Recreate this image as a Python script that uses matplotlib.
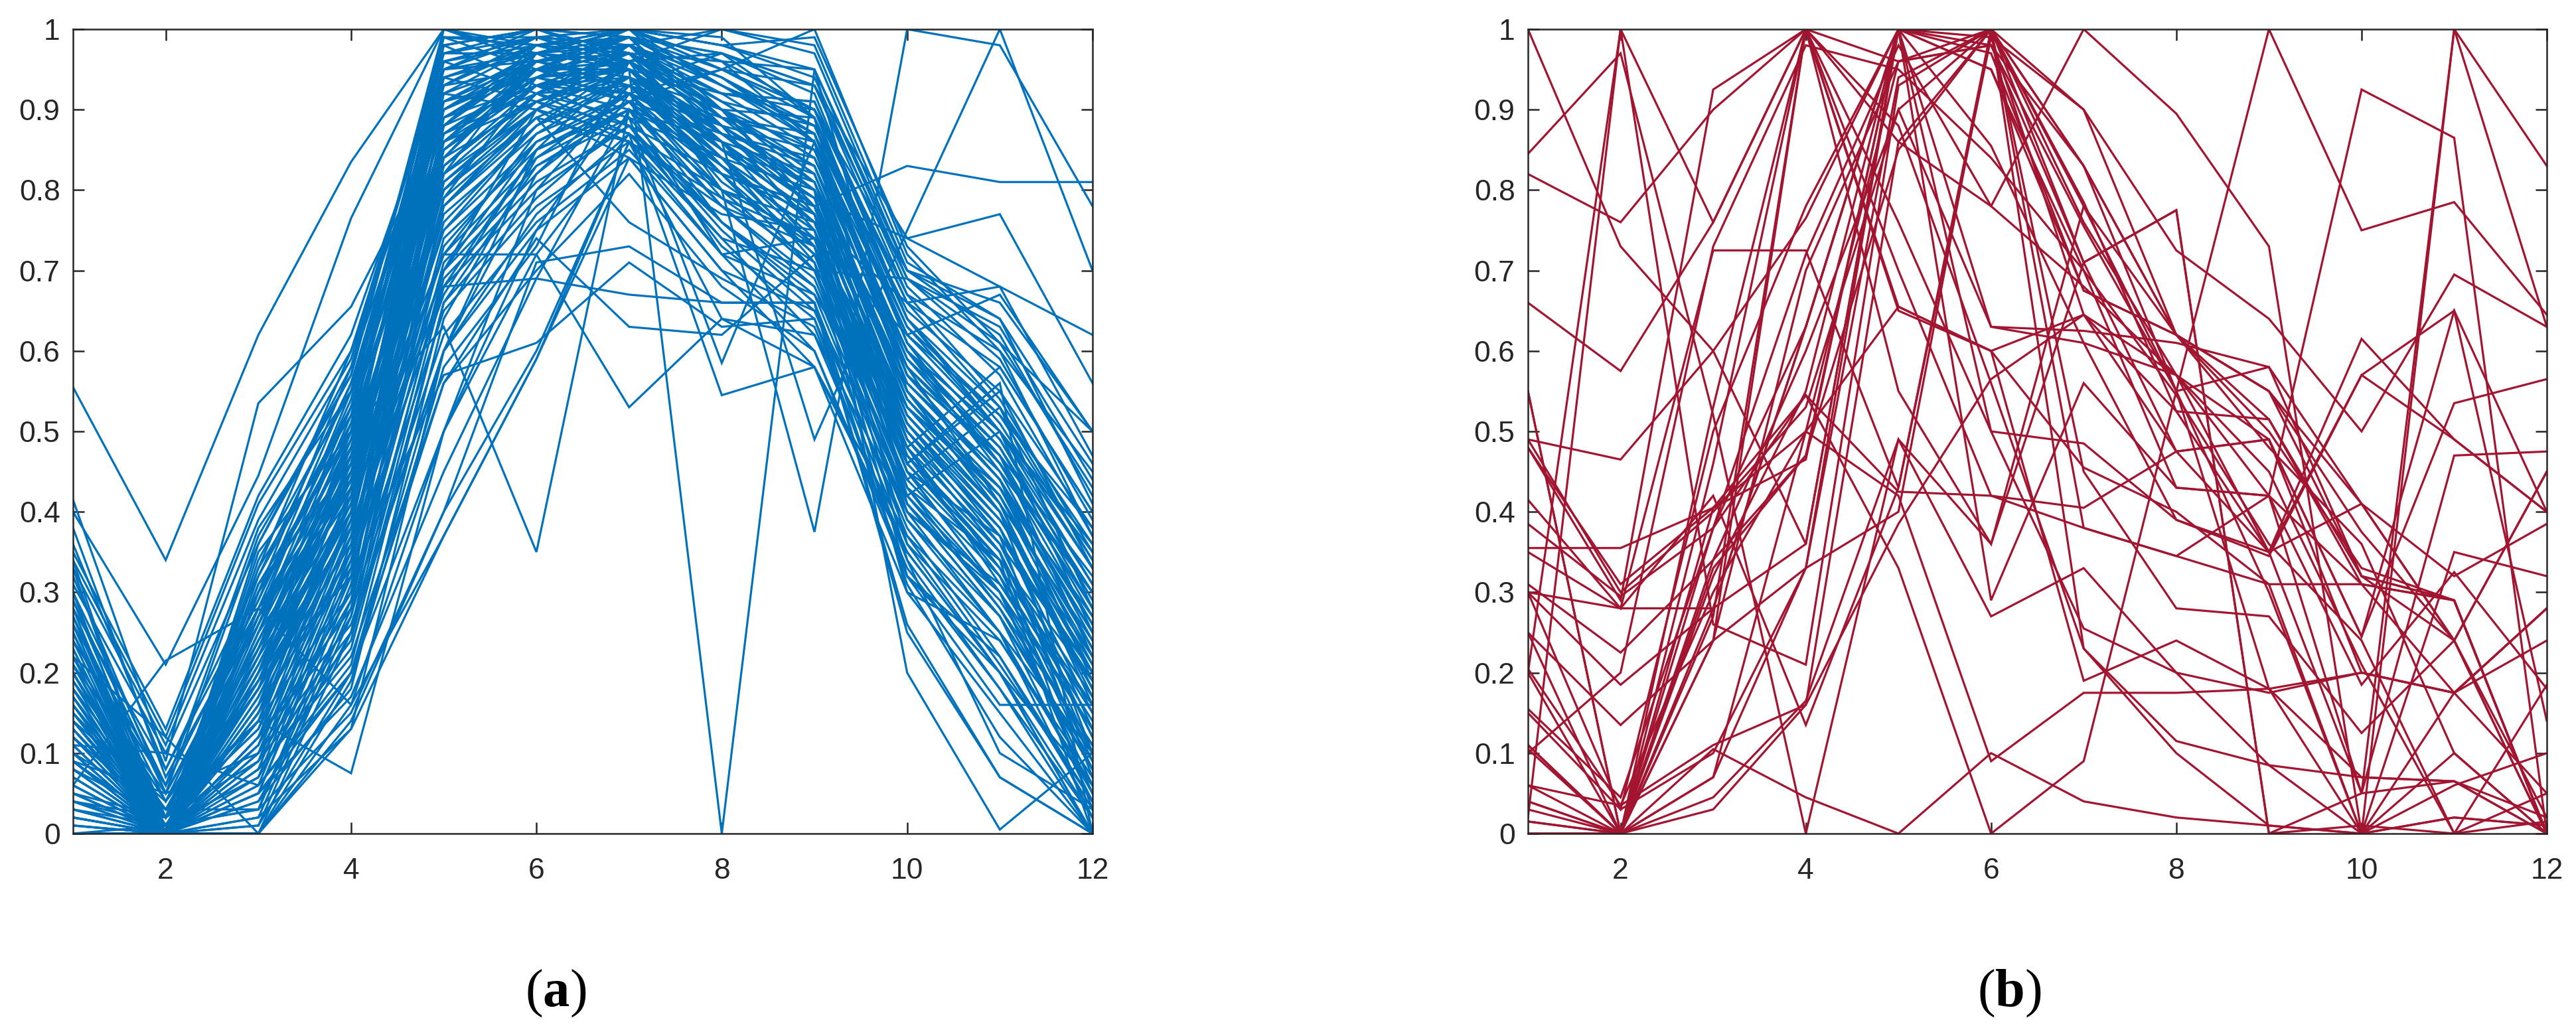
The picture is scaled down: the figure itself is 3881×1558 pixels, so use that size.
import matplotlib
matplotlib.use('Agg')
import matplotlib.pyplot as plt

# x positions (months / steps)
x_vals = [1, 2, 3, 4, 5, 6, 7, 8, 9, 10, 11, 12]
x_ticks = [2, 4, 6, 8, 10, 12]
y_ticks = [0, 0.1, 0.2, 0.3, 0.4, 0.5, 0.6, 0.7, 0.8, 0.9, 1]
y_tick_labels = ['0', '0.1', '0.2', '0.3', '0.4', '0.5', '0.6', '0.7', '0.8', '0.9', '1']

# panel (a): normalised profiles, one row per curve
series_a = [
    [0.555, 0.34, 0.62, 0.835, 1.0, 0.98, 0.99, 0.97, 0.93, 0.74, 0.68, 0.62],
    [0.415, 0.09, 0.535, 0.655, 0.88, 0.97, 1.0, 0.96, 0.86, 0.62, 0.5, 0.35],
    [0.40, 0.21, 0.445, 0.765, 1.0, 1.0, 0.97, 0.92, 0.9, 0.7, 0.66, 0.5],
    [0.34, 0.12, 0.41, 0.6, 0.93, 0.99, 0.95, 0.88, 0.8, 0.58, 0.46, 0.3],
    [0.30, 0.06, 0.38, 0.55, 0.9, 0.95, 1.0, 0.9, 0.82, 0.55, 0.42, 0.22],
    [0.27, 0.02, 0.33, 0.52, 0.86, 0.93, 0.97, 0.85, 0.77, 0.5, 0.38, 0.18],
    [0.25, 0.0, 0.3, 0.48, 0.82, 0.9, 0.95, 0.84, 0.74, 0.47, 0.35, 0.12],
    [0.22, 0.04, 0.28, 0.45, 0.8, 0.92, 0.98, 0.87, 0.79, 0.52, 0.4, 0.2],
    [0.2, 0.0, 0.25, 0.42, 0.78, 0.88, 0.94, 0.82, 0.72, 0.45, 0.3, 0.1],
    [0.18, 0.03, 0.22, 0.4, 0.75, 0.86, 0.92, 0.8, 0.7, 0.43, 0.28, 0.08],
    [0.16, 0.0, 0.2, 0.38, 0.72, 0.84, 0.9, 0.78, 0.68, 0.4, 0.25, 0.05],
    [0.15, 0.01, 0.18, 0.36, 0.7, 0.82, 0.93, 0.86, 0.76, 0.48, 0.33, 0.15],
    [0.13, 0.0, 0.16, 0.33, 0.68, 0.8, 0.88, 0.75, 0.65, 0.38, 0.22, 0.03],
    [0.12, 0.02, 0.14, 0.3, 0.65, 0.78, 0.86, 0.74, 0.62, 0.35, 0.2, 0.0],
    [0.1, 0.0, 0.12, 0.28, 0.62, 0.76, 0.85, 0.72, 0.6, 0.33, 0.18, 0.02],
    [0.09, 0.05, 0.1, 0.25, 0.6, 0.75, 0.84, 0.7, 0.58, 0.3, 0.15, 0.0],
    [0.08, 0.0, 0.08, 0.22, 0.56, 0.7, 0.82, 0.68, 0.6, 0.32, 0.2, 0.06],
    [0.06, 0.0, 0.06, 0.2, 0.5, 0.72, 0.87, 0.76, 0.66, 0.37, 0.25, 0.1],
    [0.05, 0.0, 0.05, 0.17, 0.45, 0.69, 0.9, 0.8, 0.7, 0.42, 0.3, 0.13],
    [0.04, 0.01, 0.03, 0.15, 0.4, 0.6, 0.86, 0.78, 0.73, 0.45, 0.33, 0.16],
    [0.03, 0.0, 0.02, 0.13, 0.37, 0.59, 0.84, 0.77, 0.75, 0.5, 0.36, 0.2],
    [0.02, 0.0, 0.0, 0.16, 0.5, 0.75, 0.92, 0.88, 0.8, 0.55, 0.43, 0.25],
    [0.01, 0.0, 0.01, 0.2, 0.6, 0.85, 0.96, 0.9, 0.85, 0.6, 0.48, 0.28],
    [0.0, 0.0, 0.04, 0.25, 0.7, 0.9, 0.98, 0.93, 0.88, 0.65, 0.55, 0.33],
    [0.35, 0.13, 0.42, 0.62, 0.95, 1.0, 0.99, 0.95, 0.9, 0.66, 0.58, 0.4],
    [0.31, 0.1, 0.36, 0.58, 0.92, 0.98, 1.0, 0.93, 0.87, 0.63, 0.52, 0.38],
    [0.28, 0.08, 0.32, 0.56, 0.9, 0.97, 0.98, 0.91, 0.84, 0.6, 0.5, 0.36],
    [0.24, 0.06, 0.29, 0.53, 0.88, 0.96, 0.99, 0.89, 0.83, 0.58, 0.47, 0.32],
    [0.21, 0.05, 0.26, 0.5, 0.87, 0.95, 0.97, 0.9, 0.81, 0.56, 0.45, 0.3],
    [0.19, 0.03, 0.24, 0.47, 0.85, 0.94, 0.96, 0.86, 0.78, 0.53, 0.43, 0.27],
    [0.17, 0.02, 0.21, 0.44, 0.84, 0.96, 0.99, 0.88, 0.8, 0.54, 0.41, 0.24],
    [0.14, 0.01, 0.19, 0.41, 0.83, 0.93, 0.97, 0.85, 0.77, 0.51, 0.39, 0.22],
    [0.11, 0.0, 0.17, 0.39, 0.81, 0.91, 0.95, 0.83, 0.75, 0.49, 0.37, 0.19],
    [0.07, 0.0, 0.15, 0.37, 0.79, 0.89, 0.94, 0.81, 0.73, 0.46, 0.34, 0.17],
    [0.05, 0.02, 0.13, 0.35, 0.77, 0.87, 0.92, 0.79, 0.71, 0.44, 0.32, 0.14],
    [0.03, 0.0, 0.11, 0.32, 0.74, 0.85, 0.91, 0.78, 0.69, 0.41, 0.29, 0.11],
    [0.02, 0.0, 0.09, 0.29, 0.71, 0.83, 0.89, 0.76, 0.67, 0.39, 0.27, 0.09],
    [0.0, 0.01, 0.07, 0.27, 0.69, 0.81, 0.88, 0.73, 0.64, 0.36, 0.24, 0.07],
    [0.26, 0.0, 0.35, 0.5, 1.0, 0.97, 0.92, 0.95, 1.0, 0.72, 0.6, 0.45],
    [0.23, 0.0, 0.31, 0.46, 0.98, 1.0, 0.96, 1.0, 0.97, 0.7, 0.62, 0.42],
    [0.2, 0.02, 0.27, 0.43, 0.96, 0.99, 1.0, 0.98, 0.94, 0.68, 0.57, 0.37],
    [0.12, 0.0, 0.2, 0.4, 0.94, 0.98, 0.99, 0.97, 0.92, 0.64, 0.53, 0.34],
    [0.08, 0.0, 0.15, 0.35, 0.91, 0.97, 1.0, 0.99, 0.89, 0.61, 0.49, 0.29],
    [0.0, 0.0, 0.1, 0.3, 0.89, 0.96, 0.98, 0.94, 0.86, 0.57, 0.44, 0.26],
    [0.1, 0.0, 0.0, 0.19, 0.58, 0.73, 0.96, 0.97, 0.89, 0.46, 0.56, 0.0],
    [0.15, 0.03, 0.14, 0.075, 0.5, 0.8, 0.93, 0.84, 0.76, 0.47, 0.35, 0.12],
    [0.06, 0.215, 0.28, 0.16, 0.37, 0.59, 0.86, 0.64, 0.58, 0.35, 0.2, 0.0],
    [0.05, 0.0, 0.0, 0.14, 0.4, 0.71, 0.73, 0.66, 0.66, 0.25, 0.07, 0.0],
    [0.3, 0.0, 0.2, 0.5, 0.63, 0.35, 0.9, 0.72, 0.74, 0.53, 0.42, 0.2],
    [0.18, 0.0, 0.22, 0.45, 0.72, 0.72, 0.53, 0.64, 0.62, 0.4, 0.3, 0.05],
    [0.1, 0.0, 0.25, 0.48, 0.85, 0.95, 0.95, 0.0, 0.95, 0.55, 0.4, 0.18],
    [0.13, 0.0, 0.2, 0.42, 0.88, 0.93, 0.92, 0.8, 0.375, 1.0, 0.98, 0.78],
    [0.08, 0.02, 0.18, 0.4, 0.86, 0.95, 0.96, 0.86, 0.49, 0.75, 1.0, 0.7],
    [0.2, 0.0, 0.24, 0.46, 0.87, 0.94, 0.99, 0.88, 0.8, 0.2, 0.005, 0.1],
    [0.25, 0.0, 0.3, 0.5, 0.9, 0.96, 0.97, 0.9, 0.78, 0.83, 0.81, 0.81],
    [0.16, 0.0, 0.26, 0.47, 0.86, 0.91, 0.94, 0.87, 0.79, 0.74, 0.77, 0.56],
    [0.11, 0.0, 0.21, 0.44, 0.83, 0.92, 0.96, 0.8, 0.74, 0.62, 0.67, 0.5],
    [0.07, 0.0, 0.16, 0.39, 0.8, 0.9, 0.95, 0.84, 0.76, 0.66, 0.68, 0.47],
    [0.04, 0.0, 0.12, 0.34, 0.76, 0.88, 0.93, 0.82, 0.7, 0.69, 0.63, 0.44],
    [0.02, 0.0, 0.1, 0.3, 0.73, 0.86, 0.91, 0.76, 0.66, 0.31, 0.12, 0.0],
    [0.17, 0.0, 0.23, 0.43, 0.8, 0.89, 0.76, 0.69, 0.63, 0.34, 0.1, 0.03],
    [0.09, 0.01, 0.18, 0.38, 0.68, 0.69, 0.67, 0.66, 0.66, 0.26, 0.07, 0.0],
    [0.14, 0.0, 0.19, 0.32, 0.57, 0.61, 0.71, 0.63, 0.64, 0.32, 0.16, 0.16],
    [0.06, 0.0, 0.12, 0.26, 0.6, 0.77, 0.87, 0.545, 0.58, 0.37, 0.21, 0.04],
    [0.03, 0.0, 0.08, 0.23, 0.66, 0.79, 0.89, 0.585, 0.86, 0.41, 0.27, 0.08],
    [0.0, 0.0, 0.05, 0.2, 0.56, 0.74, 0.63, 0.62, 0.72, 0.48, 0.31, 0.13],
    [0.38, 0.07, 0.28, 0.54, 0.98, 1.0, 1.0, 0.98, 0.99, 0.73, 0.61, 0.5],
    [0.33, 0.11, 0.39, 0.59, 0.97, 0.99, 0.98, 1.0, 0.98, 0.71, 0.64, 0.41],
    [0.29, 0.05, 0.37, 0.57, 0.99, 0.98, 0.97, 0.96, 0.95, 0.69, 0.59, 0.39],
    [0.23, 0.0, 0.34, 0.55, 0.95, 0.97, 1.0, 0.95, 0.93, 0.67, 0.54, 0.35],
    [0.19, 0.0, 0.3, 0.51, 0.93, 0.99, 0.98, 0.92, 0.91, 0.64, 0.51, 0.33],
    [0.15, 0.0, 0.27, 0.49, 0.91, 0.96, 0.97, 0.91, 0.88, 0.61, 0.49, 0.31],
    [0.12, 0.0, 0.23, 0.46, 0.89, 0.95, 0.96, 0.89, 0.87, 0.59, 0.46, 0.28],
    [0.09, 0.0, 0.2, 0.44, 0.87, 0.94, 0.95, 0.88, 0.85, 0.56, 0.44, 0.25],
    [0.04, 0.0, 0.17, 0.41, 0.85, 0.93, 0.94, 0.87, 0.83, 0.54, 0.42, 0.23],
    [0.01, 0.0, 0.14, 0.39, 0.82, 0.92, 0.93, 0.85, 0.81, 0.52, 0.39, 0.21],
    [0.22, 0.12, 0.0, 0.13, 0.6, 0.82, 0.91, 0.83, 0.75, 0.45, 0.37, 0.2],
    [0.27, 0.0, 0.04, 0.18, 0.64, 0.84, 0.92, 0.82, 0.78, 0.43, 0.34, 0.19],
    [0.11, 0.1, 0.06, 0.21, 0.66, 0.83, 0.9, 0.8, 0.74, 0.4, 0.31, 0.16],
    [0.17, 0.0, 0.09, 0.24, 0.68, 0.85, 0.91, 0.82, 0.77, 0.42, 0.28, 0.11],
    [0.33, 0.0, 0.25, 0.52, 0.97, 1.0, 0.99, 0.93, 0.86, 0.57, 0.47, 0.27],
    [0.29, 0.02, 0.18, 0.47, 0.95, 0.99, 0.98, 0.91, 0.84, 0.6, 0.45, 0.24],
    [0.26, 0.0, 0.14, 0.43, 0.93, 0.98, 1.0, 0.95, 0.89, 0.64, 0.5, 0.31],
    [0.21, 0.01, 0.11, 0.39, 0.9, 0.97, 0.99, 0.94, 0.88, 0.62, 0.52, 0.34],
    [0.18, 0.0, 0.08, 0.36, 0.88, 0.98, 0.97, 0.92, 0.85, 0.59, 0.48, 0.3],
    [0.14, 0.0, 0.05, 0.33, 0.86, 0.96, 0.98, 0.9, 0.83, 0.55, 0.43, 0.21],
    [0.1, 0.03, 0.03, 0.31, 0.84, 0.95, 0.99, 0.93, 0.87, 0.58, 0.41, 0.18],
    [0.06, 0.0, 0.02, 0.28, 0.82, 0.97, 1.0, 0.96, 0.9, 0.61, 0.46, 0.26],
    [0.02, 0.0, 0.0, 0.25, 0.79, 0.94, 0.98, 0.94, 0.87, 0.57, 0.44, 0.23],
    [0.36, 0.08, 0.3, 0.58, 0.99, 0.99, 0.96, 0.9, 0.82, 0.53, 0.4, 0.17],
    [0.32, 0.05, 0.27, 0.55, 0.98, 1.0, 0.97, 0.89, 0.8, 0.5, 0.38, 0.15],
    [0.27, 0.04, 0.23, 0.51, 0.96, 0.98, 0.95, 0.87, 0.78, 0.48, 0.36, 0.12],
    [0.24, 0.0, 0.2, 0.48, 0.94, 0.97, 0.96, 0.86, 0.76, 0.46, 0.33, 0.09],
    [0.2, 0.0, 0.16, 0.45, 0.92, 0.96, 0.94, 0.84, 0.73, 0.43, 0.3, 0.06],
    [0.16, 0.02, 0.13, 0.42, 0.9, 0.95, 0.93, 0.83, 0.72, 0.41, 0.27, 0.04],
    [0.13, 0.0, 0.1, 0.38, 0.87, 0.94, 0.92, 0.82, 0.7, 0.39, 0.25, 0.02],
    [0.09, 0.0, 0.07, 0.35, 0.85, 0.93, 0.95, 0.85, 0.79, 0.47, 0.34, 0.0],
    [0.05, 0.0, 0.05, 0.32, 0.83, 0.92, 0.97, 0.88, 0.81, 0.49, 0.35, 0.03],
    [0.03, 0.01, 0.03, 0.29, 0.81, 0.91, 0.96, 0.87, 0.8, 0.51, 0.37, 0.07],
    [0.0, 0.0, 0.01, 0.27, 0.78, 0.9, 0.95, 0.86, 0.78, 0.52, 0.4, 0.1],
    [0.3, 0.0, 0.33, 0.6, 0.97, 0.97, 0.95, 0.92, 0.91, 0.66, 0.53, 0.28],
    [0.26, 0.06, 0.29, 0.56, 0.95, 0.96, 0.94, 0.9, 0.89, 0.63, 0.5, 0.25],
    [0.22, 0.0, 0.26, 0.53, 0.93, 0.95, 0.93, 0.89, 0.86, 0.6, 0.47, 0.22],
    [0.18, 0.0, 0.22, 0.49, 0.91, 0.94, 0.91, 0.87, 0.84, 0.57, 0.44, 0.19],
    [0.14, 0.04, 0.19, 0.46, 0.89, 0.93, 0.9, 0.86, 0.82, 0.54, 0.41, 0.16],
    [0.11, 0.0, 0.15, 0.43, 0.87, 0.92, 0.89, 0.84, 0.8, 0.51, 0.38, 0.13],
    [0.07, 0.0, 0.12, 0.4, 0.84, 0.91, 0.88, 0.82, 0.78, 0.49, 0.35, 0.1],
    [0.04, 0.02, 0.09, 0.37, 0.81, 0.9, 0.87, 0.8, 0.76, 0.47, 0.32, 0.08],
    [0.01, 0.0, 0.06, 0.34, 0.78, 0.89, 0.86, 0.79, 0.74, 0.45, 0.3, 0.05],
    [0.2, 0.0, 0.27, 0.44, 0.75, 0.88, 0.96, 0.9, 0.77, 0.36, 0.2, 0.02],
    [0.16, 0.0, 0.23, 0.41, 0.72, 0.87, 0.94, 0.88, 0.75, 0.34, 0.18, 0.0],
    [0.12, 0.0, 0.19, 0.38, 0.7, 0.86, 0.92, 0.86, 0.73, 0.32, 0.22, 0.04],
    [0.08, 0.0, 0.15, 0.35, 0.67, 0.85, 0.9, 0.84, 0.71, 0.3, 0.24, 0.06],
    [0.25, 0.02, 0.31, 0.5, 0.98, 0.93, 0.88, 0.76, 0.68, 0.44, 0.53, 0.36],
    [0.21, 0.0, 0.28, 0.47, 0.96, 0.92, 0.87, 0.74, 0.7, 0.46, 0.55, 0.38],
    [0.17, 0.0, 0.24, 0.44, 0.94, 0.91, 0.86, 0.72, 0.67, 0.48, 0.58, 0.4],
    [0.13, 0.01, 0.2, 0.41, 0.92, 0.9, 0.84, 0.7, 0.65, 0.42, 0.5, 0.33],
    [0.34, 0.0, 0.36, 0.57, 1.0, 0.96, 0.93, 0.97, 0.93, 0.69, 0.61, 0.43],
    [0.28, 0.0, 0.32, 0.53, 0.99, 0.95, 0.91, 0.95, 0.9, 0.67, 0.6, 0.37],
    [0.09, 0.0, 0.18, 0.4, 0.88, 0.97, 1.0, 0.98, 0.95, 0.7, 0.64, 0.46],
]

# panel (b): the scattered group
series_b = [
    [1.00, 0.73, 0.60, 0.36, 1.00, 0.98, 0.83, 0.62, 0.55, 0.32, 0.24, 0.00],
    [0.82, 0.76, 0.90, 1.00, 0.65, 0.60, 0.645, 0.57, 0.49, 0.245, 0.535, 0.565],
    [0.845, 0.97, 0.52, 0.00, 0.49, 0.36, 0.71, 0.775, 0.00, 0.05, 0.065, 0.00],
    [0.66, 0.575, 0.76, 1.00, 0.86, 0.78, 1.00, 0.895, 0.73, 0.00, 0.02, 0.01],
    [0.49, 0.465, 0.60, 0.765, 1.00, 0.95, 0.675, 0.62, 0.55, 0.375, 0.24, 0.45],
    [0.55, 0.00, 0.28, 0.63, 1.00, 1.00, 0.785, 0.525, 0.35, 0.615, 0.49, 0.40],
    [0.48, 0.31, 0.405, 0.50, 0.96, 0.98, 0.755, 0.55, 0.58, 0.32, 0.29, 0.00],
    [0.415, 0.28, 0.725, 0.725, 0.43, 0.99, 0.645, 0.475, 0.49, 0.245, 0.65, 0.40],
    [0.385, 0.295, 0.38, 0.63, 1.00, 0.855, 0.61, 0.39, 0.345, 0.57, 0.65, 0.14],
    [0.355, 0.355, 0.405, 0.545, 0.33, 0.00, 0.09, 0.55, 1.00, 0.75, 0.785, 0.645],
    [0.31, 0.225, 0.34, 0.47, 1.00, 0.63, 0.61, 0.57, 0.42, 0.31, 0.175, 0.28],
    [0.30, 0.185, 0.28, 0.36, 1.00, 0.50, 0.485, 0.39, 0.35, 0.41, 0.24, 0.02],
    [0.25, 0.135, 0.24, 0.33, 0.94, 1.00, 0.38, 0.345, 0.42, 0.185, 0.325, 0.18],
    [0.205, 0.035, 0.11, 0.16, 0.385, 0.565, 0.645, 0.525, 0.515, 0.32, 0.29, 0.00],
    [0.155, 0.045, 0.38, 0.545, 0.425, 0.42, 0.405, 0.475, 0.49, 0.20, 0.175, 0.28],
    [0.11, 0.00, 0.405, 0.465, 1.00, 0.29, 0.56, 0.43, 0.42, 0.05, 0.47, 0.475],
    [0.105, 0.00, 0.105, 0.045, 0.00, 0.10, 0.04, 0.02, 0.01, 0.00, 0.02, 0.01],
    [0.06, 0.035, 0.30, 0.50, 0.655, 0.60, 0.19, 0.24, 0.18, 0.00, 0.06, 0.10],
    [0.04, 0.00, 0.045, 0.165, 0.49, 0.27, 0.33, 0.20, 0.175, 0.20, 0.175, 0.28],
    [0.03, 0.00, 0.03, 0.16, 0.86, 1.00, 0.45, 0.28, 0.27, 0.125, 0.24, 0.45],
    [0.015, 0.00, 0.24, 0.70, 0.96, 1.00, 0.83, 0.55, 0.18, 0.07, 0.065, 0.00],
    [0.02, 1.00, 0.76, 1.00, 0.96, 0.98, 0.71, 0.775, 0.00, 0.01, 0.00, 0.05],
    [0.20, 1.00, 0.26, 0.21, 0.93, 1.00, 0.23, 0.115, 0.085, 0.00, 0.35, 0.32],
    [0.48, 0.29, 0.925, 1.00, 0.55, 0.36, 0.78, 0.62, 0.55, 0.41, 0.24, 0.00],
    [0.35, 0.28, 0.28, 0.63, 1.00, 0.99, 0.90, 0.725, 0.64, 0.50, 0.695, 0.63],
    [0.015, 0.00, 0.32, 0.55, 1.00, 1.00, 0.83, 0.62, 0.48, 0.36, 0.10, 0.00],
    [0.30, 0.03, 0.10, 0.33, 1.00, 0.97, 0.675, 0.62, 0.515, 0.31, 0.29, 0.00],
    [0.11, 0.00, 0.38, 0.72, 0.98, 0.78, 0.68, 0.57, 0.45, 0.21, 0.00, 0.185],
    [0.55, 0.00, 0.33, 0.47, 0.85, 1.00, 0.71, 0.475, 0.35, 0.57, 0.49, 0.40],
    [0.04, 0.00, 0.24, 1.00, 0.655, 0.60, 0.455, 0.40, 0.31, 0.31, 0.29, 0.00],
    [0.00, 0.00, 0.07, 0.50, 0.42, 0.09, 0.175, 0.175, 0.18, 0.20, 0.175, 0.05],
    [0.06, 0.00, 0.27, 1.00, 0.70, 0.42, 0.38, 0.345, 0.31, 0.00, 0.10, 0.00],
    [0.20, 0.00, 0.53, 1.00, 0.88, 0.56, 0.23, 0.10, 0.01, 0.00, 0.175, 0.24],
    [0.00, 0.00, 0.46, 1.00, 0.76, 0.50, 0.255, 0.20, 0.085, 0.07, 0.065, 0.02],
    [0.30, 0.28, 0.42, 0.135, 0.43, 1.00, 0.90, 0.62, 0.50, 0.33, 0.29, 0.00],
    [0.25, 0.00, 0.07, 0.33, 0.40, 1.00, 0.76, 0.57, 0.35, 0.05, 1.00, 0.83],
    [0.15, 0.03, 0.50, 0.78, 1.00, 0.95, 0.70, 0.43, 0.42, 0.925, 0.865, 0.00],
    [0.11, 0.00, 0.34, 0.60, 0.90, 1.00, 0.78, 0.55, 0.30, 0.00, 1.00, 0.63],
    [0.10, 0.20, 0.73, 0.98, 0.95, 0.84, 0.70, 0.545, 0.36, 0.24, 0.00, 0.015],
    [0.49, 0.30, 0.40, 0.53, 0.90, 0.63, 0.625, 0.61, 0.58, 0.41, 0.32, 0.385],
]

panel_labels = ['a', 'b']
line_colors = ['#0072BD', '#A2142F']

plt.rcParams['font.family'] = ['Liberation Sans', 'DejaVu Sans']
plt.rcParams['mathtext.fontset'] = 'custom'
plt.rcParams['mathtext.rm'] = 'Liberation Serif'
plt.rcParams['mathtext.bf'] = 'Liberation Serif:bold'

fig = plt.figure(figsize=(38.81, 15.58), dpi=100)

ax_a = fig.add_axes([0.02834, 0.19384, 0.39577, 0.77792])
ax_b = fig.add_axes([0.59315, 0.19384, 0.39552, 0.77792])

for ax, data, col in [(ax_a, series_a, line_colors[0]), (ax_b, series_b, line_colors[1])]:
    for row in data:
        ax.plot(x_vals, row, color=col, lw=2.3, solid_joinstyle='miter')
    ax.set_xlim(1, 12)
    ax.set_ylim(0, 1)
    ax.set_xticks(x_ticks)
    ax.set_xticklabels([str(t) for t in x_ticks])
    ax.set_yticks(y_ticks)
    ax.set_yticklabels(y_tick_labels)
    ax.tick_params(axis='both', direction='in', length=12, width=1.8,
                   color='#262626', labelcolor='#262626', labelsize=32,
                   top=True, right=True)
    ax.tick_params(axis='x', pad=26)
    ax.tick_params(axis='y', pad=14)
    for s in ax.spines.values():
        s.set_linewidth(1.8)
        s.set_color('#262626')
        s.set_zorder(5)

# sub-figure captions
for lab, xc in zip(panel_labels, [837, 3027]):
    fig.text(xc / 3881, 1 - 1497 / 1558, '($\\mathbf{' + lab + '}$)', ha='center',
             va='center', fontsize=58, family='Liberation Serif')

fig.savefig('out.png', dpi=100, facecolor='white')
